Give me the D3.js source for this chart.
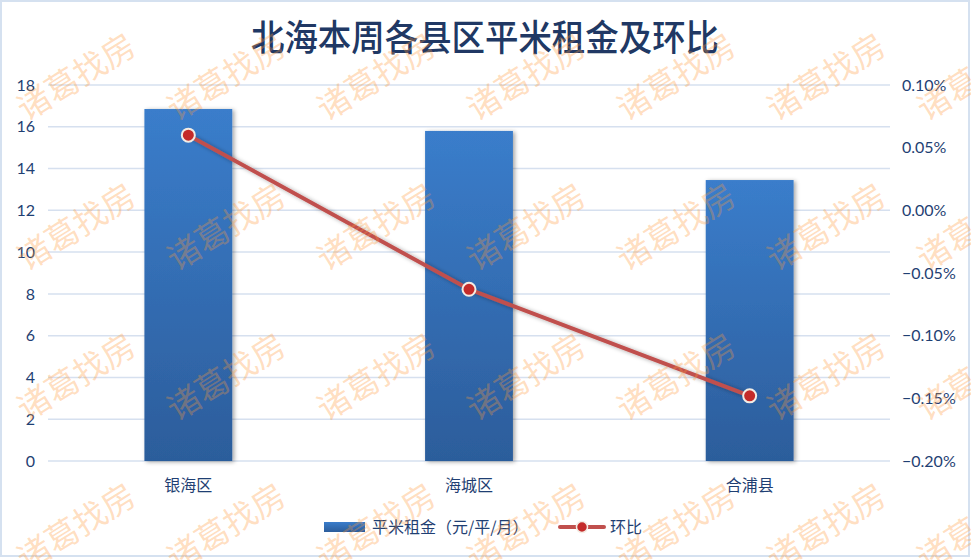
<!DOCTYPE html>
<html><head><meta charset="utf-8">
<script src="https://cdn.jsdelivr.net/npm/d3@7"></script>
<style>html,body{margin:0;padding:0;background:#fff;}svg{display:block;}</style>
</head><body>
<svg id="chart" width="971" height="560"></svg>
<script>
const categories = ["银海区", "海城区", "合浦县"];
const rentValues = [16.85, 15.8, 13.45];
const ratioValues = [0.0006, -0.00063, -0.00148];
const leftTicks = [0, 2, 4, 6, 8, 10, 12, 14, 16, 18];
const rightTicks = [0.001, 0.0005, 0, -0.0005, -0.001, -0.0015, -0.002];
const title = "北海本周各县区平米租金及环比";
const seriesNames = ["平米租金（元/平/月）", "环比"];
const watermark = "诸葛找房";

const W = 971, H = 560;
const plot = {left: 48, right: 890, top: 85, bottom: 461};
const svg = d3.select("#chart");
const defs = svg.append("defs");

const grad = defs.append("linearGradient").attr("id", "barGrad").attr("x1", 0).attr("y1", 0).attr("x2", 0).attr("y2", 1);
grad.append("stop").attr("offset", "0%").attr("stop-color", "#3A7DCB");
grad.append("stop").attr("offset", "100%").attr("stop-color", "#2C5D9B");
const sh = defs.append("filter").attr("id", "shadow").attr("x", "-20%").attr("y", "-20%").attr("width", "150%").attr("height", "150%");
sh.append("feDropShadow").attr("dx", 2).attr("dy", 1).attr("stdDeviation", 2).attr("flood-color", "#000").attr("flood-opacity", 0.35);
defs.append("clipPath").attr("id", "frame").append("rect").attr("x", 0).attr("y", 0).attr("width", W).attr("height", H);

// border
svg.append("rect").attr("x", 1).attr("y", 1).attr("width", W - 3).attr("height", H - 5)
  .attr("fill", "#fff").attr("stroke", "#D5E1F0").attr("stroke-width", 2);

const x = d3.scaleBand().domain(categories).range([plot.left, plot.right]).padding(0);
const yL = d3.scaleLinear().domain([0, 18]).range([plot.bottom, plot.top]);
const yR = d3.scaleLinear().domain([-0.002, 0.001]).range([plot.bottom, plot.top]);

// gridlines
svg.append("g").selectAll("line").data(leftTicks).join("line")
  .attr("x1", plot.left).attr("x2", plot.right)
  .attr("y1", d => yL(d)).attr("y2", d => yL(d))
  .attr("stroke", "#D6E0EF").attr("stroke-width", 1.5);

// left axis
const leftAxis = d3.axisLeft(yL).tickValues(leftTicks).tickSize(0).tickPadding(0);
const gl = svg.append("g").attr("transform", `translate(35,0)`).call(leftAxis);
gl.select(".domain").remove();
gl.selectAll("text").attr("font-family", "Lato, 'Open Sans', sans-serif").attr("font-size", 16).attr("fill", "#1F3F73");

// right axis
const rightAxis = d3.axisRight(yR).tickValues(rightTicks).tickSize(0).tickPadding(0).tickFormat(d3.format(".2%"));
const gr = svg.append("g").attr("transform", `translate(902,0)`).call(rightAxis);
gr.select(".domain").remove();
gr.selectAll("text").attr("font-family", "Lato, 'Open Sans', sans-serif").attr("font-size", 16).attr("fill", "#1F3F73");

// bars
const bw = x.bandwidth() * 0.313;
svg.append("g").selectAll("rect").data(categories).join("rect")
  .attr("x", d => x(d) + x.bandwidth() / 2 - bw / 2)
  .attr("width", bw)
  .attr("y", (d, i) => yL(rentValues[i]))
  .attr("height", (d, i) => yL(0) - yL(rentValues[i]))
  .attr("fill", "url(#barGrad)").attr("filter", "url(#shadow)");

// category labels
svg.append("g").selectAll("text").data(categories).join("text")
  .attr("x", d => x(d) + x.bandwidth() / 2).attr("y", 491)
  .attr("text-anchor", "middle").attr("font-family", "'Noto Sans CJK SC', sans-serif")
  .attr("font-size", 16).attr("fill", "#1F3F73").text(d => d);

// line
const pts = categories.map((c, i) => [x(c) + x.bandwidth() / 2, yR(ratioValues[i])]);
svg.append("path").attr("d", d3.line()(pts)).attr("fill", "none")
  .attr("stroke", "#C0504D").attr("stroke-width", 4).attr("stroke-linecap", "round").attr("filter", "url(#shadow)");
svg.append("g").selectAll("circle").data(pts).join("circle")
  .attr("cx", d => d[0]).attr("cy", d => d[1]).attr("r", 6.5)
  .attr("fill", "#C42B2A").attr("stroke", "#F3ECE4").attr("stroke-width", 2);

// title
svg.append("text").attr("x", 485).attr("y", 51).attr("text-anchor", "middle")
  .attr("font-family", "'Noto Sans CJK SC', sans-serif").attr("font-weight", 500)
  .attr("font-size", 36).attr("fill", "#203864").attr("textLength", 468).attr("lengthAdjust", "spacingAndGlyphs").text(title);

// legend
const lg = svg.append("g");
lg.append("rect").attr("x", 324).attr("y", 522).attr("width", 41).attr("height", 10).attr("fill", "url(#barGrad)");
lg.append("text").attr("x", 372).attr("y", 533).attr("font-family", "'Noto Sans CJK SC', sans-serif")
  .attr("font-size", 16).attr("fill", "#1F3F73").text(seriesNames[0]);
lg.append("line").attr("x1", 560).attr("x2", 604).attr("y1", 527).attr("y2", 527)
  .attr("stroke", "#C0504D").attr("stroke-width", 4).attr("stroke-linecap", "round");
lg.append("circle").attr("cx", 582).attr("cy", 527).attr("r", 5.5).attr("fill", "#C42B2A").attr("stroke", "#F3ECE4").attr("stroke-width", 1.5);
lg.append("text").attr("x", 610).attr("y", 533).attr("font-family", "'Noto Sans CJK SC', sans-serif")
  .attr("font-size", 16).attr("fill", "#1F3F73").text(seriesNames[1]);

// watermark (tiled, clipped at the frame like the reference)
const wm = [];
[75, 225, 375, 525].forEach(cy => { for (let k = 0; k < 7; k++) wm.push([75 + 150 * k, cy]); });
svg.append("g").attr("pointer-events", "none").attr("clip-path", "url(#frame)").selectAll("text").data(wm).join("text")
  .attr("transform", d => `translate(${d[0]},${d[1]}) rotate(-32)`)
  .attr("text-anchor", "middle").attr("dominant-baseline", "central")
  .attr("font-family", "'Noto Sans CJK SC', sans-serif").attr("font-size", 33)
  .attr("fill", "#FF9A3C").attr("fill-opacity", 0.33).text(watermark);
</script>
</body></html>
